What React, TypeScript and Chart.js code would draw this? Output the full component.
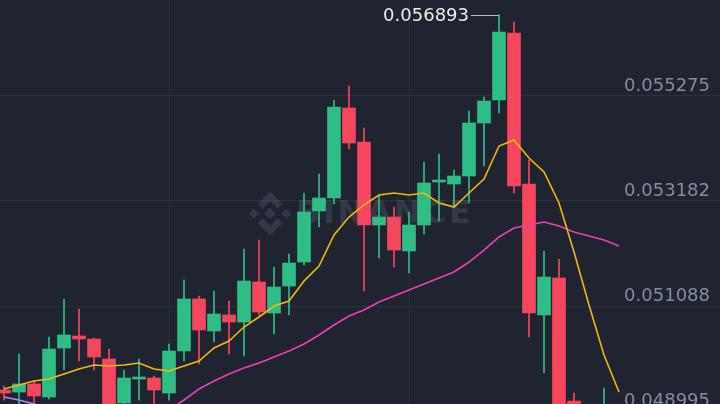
import React, { useEffect, useRef } from "react";
import { Chart, registerables } from "chart.js";

Chart.register(...registerables);

// ---- data ----
const INDEX = [0, 1, 2, 3, 4, 5, 6, 7, 8, 9, 10, 11, 12, 13, 14, 15, 16, 17, 18, 19, 20, 21, 22, 23, 24, 25, 26, 27, 28, 29, 30, 31, 32, 33, 34, 35, 36, 37, 38, 39, 40, 41];

const OPEN = [0.049413, 0.049373, 0.049533, 0.049274, 0.050251, 0.05049, 0.05043, 0.050031, 0.049154, 0.049632, 0.049652, 0.049353, 0.050191, 0.051228, 0.05059, 0.050909, 0.050769, 0.051566, 0.050948, 0.051487, 0.051965, 0.052982, 0.053241, 0.055036, 0.054358, 0.052703, 0.052862, 0.052185, 0.052703, 0.05356, 0.05352, 0.05368, 0.054737, 0.055195, 0.056531, 0.05352, 0.050909, 0.051646, 0.049194, 0.0489, 0.0486, 0.049];
const HIGH = [0.049493, 0.050131, 0.049593, 0.05047, 0.051228, 0.051028, 0.05045, 0.050231, 0.049812, 0.050031, 0.049692, 0.05033, 0.051606, 0.051287, 0.051387, 0.051188, 0.052224, 0.052404, 0.051866, 0.052125, 0.053341, 0.05372, 0.055195, 0.055474, 0.054637, 0.053301, 0.053062, 0.052962, 0.053959, 0.054119, 0.0538, 0.054976, 0.055255, 0.056893, 0.05675, 0.053999, 0.052185, 0.052025, 0.049353, 0.04905, 0.049453, 0.0491];
const LOW = [0.049214, 0.049094, 0.049114, 0.049234, 0.049812, 0.049991, 0.049812, 0.0489, 0.049094, 0.049214, 0.049114, 0.049214, 0.049991, 0.049932, 0.05037, 0.050131, 0.050091, 0.050909, 0.05053, 0.050909, 0.051905, 0.052663, 0.053122, 0.054218, 0.051387, 0.052045, 0.051866, 0.051746, 0.052524, 0.052783, 0.053042, 0.053142, 0.053879, 0.054936, 0.053341, 0.05047, 0.049752, 0.0487, 0.0486, 0.0485, 0.0484, 0.0487];
const CLOSE = [0.049353, 0.049533, 0.049294, 0.050231, 0.05051, 0.05043, 0.050071, 0.049, 0.049652, 0.049672, 0.049413, 0.050191, 0.051228, 0.050609, 0.050929, 0.050769, 0.051586, 0.050968, 0.051467, 0.051945, 0.052962, 0.053241, 0.055056, 0.054338, 0.052703, 0.052862, 0.052204, 0.052703, 0.05354, 0.0536, 0.05368, 0.054737, 0.055175, 0.056551, 0.053481, 0.050948, 0.051666, 0.0488, 0.0489, 0.0487, 0.049, 0.0489];

const MA7 = [0.049433, 0.049513, 0.049593, 0.049632, 0.049732, 0.049832, 0.049912, 0.049892, 0.049912, 0.049952, 0.049832, 0.049792, 0.049892, 0.049991, 0.050251, 0.05039, 0.050669, 0.050869, 0.051088, 0.051188, 0.051586, 0.051885, 0.052504, 0.052862, 0.053102, 0.053301, 0.053341, 0.053301, 0.053341, 0.053142, 0.053062, 0.053341, 0.05362, 0.054278, 0.054398, 0.054039, 0.05376, 0.053142, 0.052165, 0.051108, 0.050111, 0.049373];
const MA25 = [null, null, null, null, null, null, null, null, null, null, 0.048815, 0.049014, 0.049214, 0.049433, 0.049593, 0.049732, 0.049852, 0.049952, 0.050071, 0.050191, 0.05033, 0.05051, 0.050709, 0.050889, 0.051008, 0.051168, 0.051287, 0.051407, 0.051527, 0.051646, 0.051766, 0.051965, 0.052204, 0.052464, 0.052643, 0.052703, 0.052763, 0.052683, 0.052563, 0.052484, 0.052404, 0.052284];
const MA99 = [0.049274, 0.049214, 0.049134, 0.049054, 0.048974, null, null, null, null, null, null, null, null, null, null, null, null, null, null, null, null, null, null, null, null, null, null, null, null, null, null, null, null, null, null, null, null, null, null, null, null, null];

const Y_TICKS = [0.048995, 0.051088, 0.053182, 0.055275];
const X_GRID = [11, 27];

// ---- view / style ----
const Y_MIN = 0.0491341;
const Y_MAX = 0.057189;
const X_MIN = -0.267;
const X_MAX = 47.733;
const BG = "#1f2430";
const GRID = "#2b303b";
const GREEN = "#2EBD85";
const RED = "#F6465D";
const FONT = "'DejaVu Sans', sans-serif";

const bgPlugin = {
  id: "bg",
  beforeDraw(chart: any) {
    const { ctx, width, height } = chart;
    ctx.save();
    ctx.fillStyle = BG;
    ctx.fillRect(0, 0, width, height);
    ctx.restore();
  },
};

const watermarkPlugin = {
  id: "watermark",
  beforeDatasetsDraw(chart: any) {
    const { ctx } = chart;
    const cx = 270;
    const cy = 213.5;
    const s = 44;
    ctx.save();
    ctx.fillStyle = "rgba(132,142,156,0.2)";
    const poly = (pts: number[][]) => {
      ctx.beginPath();
      pts.forEach(([px, py], i) => {
        const X = cx + px * s;
        const Y = cy + py * s;
        if (i === 0) ctx.moveTo(X, Y);
        else ctx.lineTo(X, Y);
      });
      ctx.closePath();
      ctx.fill();
    };
    const diamond = (dx: number, dy: number, r: number) =>
      poly([[dx, dy - r], [dx + r, dy], [dx, dy + r], [dx - r, dy]]);
    diamond(0, 0, 0.13);
    diamond(-0.37, 0, 0.11);
    diamond(0.37, 0, 0.11);
    poly([[0, -0.5], [0.28, -0.22], [0.17, -0.11], [0, -0.28], [-0.17, -0.11], [-0.28, -0.22]]);
    poly([[0, 0.5], [0.28, 0.22], [0.17, 0.11], [0, 0.28], [-0.17, 0.11], [-0.28, 0.22]]);
    ctx.font = `bold 32px ${FONT}`;
    (ctx as any).letterSpacing = "2.5px";
    ctx.textBaseline = "middle";
    ctx.textAlign = "left";
    ctx.fillText("BINANCE", 296, cy + 1);
    ctx.restore();
  },
};

// price labels of the right axis, drawn from the axis' own ticks
const yLabelPlugin = {
  id: "yLabels",
  afterDatasetsDraw(chart: any) {
    const { ctx } = chart;
    const ys = chart.scales.y;
    ctx.save();
    ctx.fillStyle = "#848E9C";
    ctx.font = `18px ${FONT}`;
    ctx.textAlign = "right";
    ctx.textBaseline = "middle";
    ys.ticks.forEach((t: any) => {
      const py = ys.getPixelForValue(t.value);
      ctx.fillText(Number(t.value).toFixed(6), chart.width - 10, py - 10);
    });
    ctx.restore();
  },
};

const maxLabelPlugin = {
  id: "maxLabel",
  afterDatasetsDraw(chart: any) {
    const { ctx } = chart;
    const xs = chart.scales.x;
    const ys = chart.scales.y;
    const maxHigh = Math.max(...HIGH);
    const idx = HIGH.indexOf(maxHigh);
    const px = xs.getPixelForValue(INDEX[idx]);
    const py = Math.round(ys.getPixelForValue(maxHigh)) + 0.5;
    ctx.save();
    ctx.strokeStyle = "#B7BDC6";
    ctx.lineWidth = 1;
    ctx.beginPath();
    ctx.moveTo(px - 28, py);
    ctx.lineTo(px, py);
    ctx.stroke();
    ctx.fillStyle = "#EAECEF";
    ctx.font = `18px ${FONT}`;
    ctx.textAlign = "right";
    ctx.textBaseline = "middle";
    ctx.fillText(maxHigh.toFixed(6), px - 30, py + 1);
    ctx.restore();
  },
};

export default function App() {
  const ref = useRef<HTMLCanvasElement | null>(null);

  useEffect(() => {
    document.body.style.margin = "0";
    document.body.style.background = BG;
    const canvas = ref.current;
    if (!canvas) return;
    const colors = INDEX.map((_, i) => (CLOSE[i] >= OPEN[i] ? GREEN : RED));
    const line = (arr: (number | null)[], color: string) => ({
      type: "line" as const,
      data: INDEX.map((x, i) => ({ x, y: arr[i] })),
      borderColor: color,
      borderWidth: 1.6,
      pointRadius: 0,
      tension: 0,
      spanGaps: false,
      order: 0,
    });
    const chart = new Chart(canvas, {
      type: "line",
      data: {
        datasets: [
          line(MA7, "#F0B90B"),
          line(MA25, "#EB40B5"),
          line(MA99, "#B385F8"),
          {
            type: "bar",
            data: INDEX.map((x, i) => ({ x, y: [OPEN[i], CLOSE[i]] })) as any,
            backgroundColor: colors,
            barThickness: 13,
            grouped: false,
            borderWidth: 0,
            borderSkipped: false,
            order: 1,
          } as any,
          {
            type: "bar",
            data: INDEX.map((x, i) => ({ x, y: [LOW[i], HIGH[i]] })) as any,
            backgroundColor: colors,
            barThickness: 1,
            grouped: false,
            borderWidth: 0,
            borderSkipped: false,
            order: 2,
          } as any,
        ],
      },
      options: {
        animation: false,
        responsive: false,
        events: [],
        layout: { padding: 0 },
        plugins: { legend: { display: false }, tooltip: { enabled: false } },
        scales: {
          x: {
            type: "linear",
            min: X_MIN,
            max: X_MAX,
            offset: false,
            grid: { color: GRID, drawTicks: false, offset: false },
            border: { display: false },
            ticks: { display: false },
            afterBuildTicks: (s: any) => {
              s.ticks = X_GRID.map((v) => ({ value: v }));
            },
            afterFit: (s: any) => {
              s.height = 0;
              s.paddingLeft = 0;
              s.paddingRight = 0;
            },
          },
          y: {
            type: "linear",
            position: "right",
            min: Y_MIN,
            max: Y_MAX,
            grid: { color: GRID, drawTicks: false },
            border: { display: false },
            ticks: { display: false },
            afterBuildTicks: (s: any) => {
              s.ticks = Y_TICKS.map((v) => ({ value: v }));
            },
            afterFit: (s: any) => {
              s.width = 0;
              s.paddingTop = 0;
              s.paddingBottom = 0;
            },
          },
        },
      } as any,
      plugins: [bgPlugin, watermarkPlugin, yLabelPlugin, maxLabelPlugin],
    });
    return () => chart.destroy();
  }, []);

  return (
    <div style={{ position: "fixed", left: 0, top: 0, width: 720, height: 404, background: BG }}>
      <canvas ref={ref} width={720} height={404} style={{ display: "block" }} />
    </div>
  );
}
